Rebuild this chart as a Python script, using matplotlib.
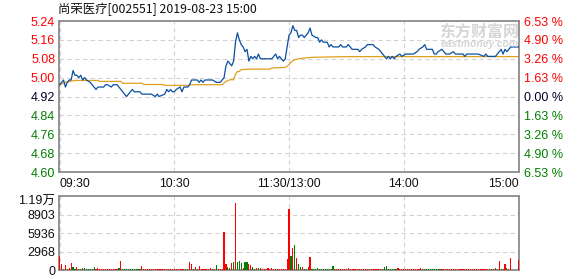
import matplotlib
matplotlib.use("Agg")
import matplotlib.pyplot as plt

plt.rcParams['font.family'] = ['Liberation Sans', 'Noto Sans CJK SC', 'DejaVu Sans']

title = "尚荣医疗[002551] 2019-08-23 15:00"

# minute index (0 = 09:30, 120 = 11:30/13:00, 240 = 15:00) and price
price_min = [0, 1, 2, 3, 4, 5, 6, 7, 8, 9,
             10, 11, 12, 13, 14, 16, 17, 18, 19, 20,
             21, 23, 24, 25, 27, 28, 30, 31, 32, 33,
             34, 35, 36, 37, 38, 39, 42, 43, 48, 50,
             51, 52, 55, 56, 57, 58, 59, 60, 61, 63,
             64, 65, 67, 68, 69, 71, 72, 73, 74, 75,
             76, 80, 82, 84, 85, 86, 87, 88, 89, 90,
             91, 92, 93, 94, 95, 96, 97, 98, 99, 100,
             101, 102, 103, 104, 105, 108, 111, 113, 114, 115,
             116, 117, 118, 119, 120, 121, 122, 123, 124, 125,
             126, 127, 128, 129, 130, 131, 132, 134, 135, 136,
             137, 138, 140, 141, 142, 143, 146, 147, 148, 150,
             151, 152, 153, 156, 157, 158, 160, 161, 164, 165,
             167, 168, 169, 170, 171, 172, 173, 174, 175, 176,
             178, 179, 181, 185, 187, 188, 190, 191, 192, 195,
             196, 197, 198, 200, 201, 202, 204, 206, 207, 209,
             211, 212, 213, 219, 222, 223, 224, 225, 228, 229,
             230, 231, 232, 233, 234, 235, 236, 240]
price_val = [4.97, 4.98, 4.99, 4.96, 4.98, 4.99, 4.99, 5.03, 5.01, 5.01,
             5.00, 5.01, 4.99, 5.00, 4.99, 4.98, 4.97, 4.96, 4.95, 4.96,
             4.96, 4.96, 4.97, 4.97, 4.96, 4.97, 4.97, 4.96, 4.95, 4.94,
             4.93, 4.92, 4.93, 4.94, 4.95, 4.94, 4.94, 4.93, 4.93, 4.92,
             4.93, 4.92, 4.93, 4.95, 4.94, 4.95, 4.94, 4.94, 4.95, 4.96,
             4.94, 4.96, 4.96, 4.97, 4.99, 4.99, 4.99, 4.98, 4.99, 4.98,
             4.99, 4.99, 4.98, 4.98, 4.99, 5.00, 5.05, 5.07, 5.06, 5.05,
             5.07, 5.15, 5.19, 5.16, 5.14, 5.13, 5.11, 5.12, 5.07, 5.09,
             5.08, 5.09, 5.08, 5.10, 5.08, 5.08, 5.08, 5.10, 5.08, 5.09,
             5.08, 5.07, 5.08, 5.13, 5.18, 5.19, 5.22, 5.20, 5.20, 5.17,
             5.18, 5.18, 5.17, 5.18, 5.19, 5.21, 5.18, 5.17, 5.17, 5.15,
             5.16, 5.15, 5.15, 5.13, 5.14, 5.13, 5.13, 5.14, 5.13, 5.13,
             5.14, 5.13, 5.12, 5.12, 5.11, 5.12, 5.13, 5.14, 5.14, 5.13,
             5.12, 5.11, 5.10, 5.09, 5.08, 5.09, 5.08, 5.09, 5.08, 5.09,
             5.10, 5.09, 5.10, 5.10, 5.11, 5.12, 5.13, 5.14, 5.12, 5.12,
             5.10, 5.10, 5.11, 5.12, 5.11, 5.10, 5.10, 5.11, 5.10, 5.10,
             5.10, 5.09, 5.10, 5.10, 5.09, 5.10, 5.09, 5.09, 5.09, 5.10,
             5.11, 5.12, 5.10, 5.12, 5.11, 5.12, 5.13, 5.13]

# average price line
avg_min = [0, 3, 6, 8, 20, 21, 32, 33, 43, 44, 54, 55, 67, 68, 85, 86, 87, 89, 91,
           92, 93, 94, 95, 99, 110, 111, 118, 119, 120, 121, 122, 123, 125, 128,
           132, 150, 240]
avg_val = [4.970, 4.980, 4.985, 4.988, 4.988, 4.984, 4.984, 4.976, 4.976, 4.971,
           4.971, 4.967, 4.967, 4.970, 4.970, 4.977, 4.984, 4.991, 4.991,
           5.015, 5.026, 5.026, 5.034, 5.036, 5.036, 5.041, 5.043, 5.048, 5.055,
           5.065, 5.072, 5.076, 5.080, 5.083, 5.086, 5.089, 5.089]

# volume per minute (241 bars), r = up, g = down
volume = [2210, 950, 200, 790, 200, 320, 1110, 470, 160, 420,
          200, 200, 320, 320, 100, 100, 100, 100, 470, 160,
          320, 120, 120, 120, 120, 120, 120, 120, 120, 120,
          120, 250, 1420, 120, 120, 120, 120, 120, 120, 120,
          120, 120, 120, 630, 120, 120, 120, 120, 120, 120,
          120, 120, 120, 120, 120, 120, 120, 120, 120, 120,
          120, 120, 120, 120, 120, 160, 120, 120, 1320, 950,
          160, 470, 200, 630, 120, 120, 120, 120, 120, 320,
          200, 120, 790, 160, 160, 160, 6160, 950, 420, 320,
          1100, 1260, 10700, 1260, 1420, 1160, 320, 1260, 1260, 950,
          790, 470, 160, 320, 320, 320, 160, 160, 160, 320,
          160, 320, 160, 160, 160, 160, 160, 160, 160, 1740,
          9800, 2210, 3480, 3950, 1900, 950, 470, 470, 160, 160,
          470, 2050, 160, 160, 160, 320, 160, 160, 160, 160,
          160, 160, 160, 630, 160, 160, 160, 160, 160, 160,
          160, 320, 160, 160, 160, 160, 160, 160, 160, 160,
          160, 160, 160, 160, 160, 160, 160, 160, 160, 160,
          470, 630, 160, 160, 160, 160, 160, 320, 160, 160,
          160, 160, 160, 160, 160, 160, 160, 160, 160, 320,
          160, 160, 160, 160, 160, 160, 160, 160, 160, 160,
          160, 160, 160, 160, 160, 160, 160, 160, 160, 160,
          160, 160, 160, 160, 160, 160, 160, 160, 160, 160,
          160, 160, 160, 160, 160, 160, 160, 160, 320, 160,
          1420, 160, 160, 950, 320, 160, 1900, 80, 80, 80,
          1580]
vol_dir = ("rrgrgrrggr" "grgggggggr" "rrrrrrrrrr" "rgrggggggg"
           "gggrrrrrrr" "rrrrrrrrrr" "rrrrrrggrr" "grgrrrrrrr"
           "grgrrrrrgg" "rgrgggrggr" "rggrgrrrrr" "rrrrrrrrrr"
           "rgrgrggrgg" "rrgggggggg" "ggggrrrrrr" "rrrrrrrrrr"
           "rrrrrrrrrg" "gggggggrrr" "rrrrrrrrrr" "gggggggggg"
           "rrrrrrrrrr" "rrrrrrrrrr" "rrrrrrggrg" "rgrrgrrrrr" "r")

price_ticks = [4.60, 4.68, 4.76, 4.84, 4.92, 5.00, 5.08, 5.16, 5.24]
pct_labels = ["6.53 %", "4.90 %", "3.26 %", "1.63 %", "0.00 %",
              "1.63 %", "3.26 %", "4.90 %", "6.53 %"]
prev_close = 4.92
time_ticks = [0, 60, 120, 180, 240]
time_labels = ["09:30", "10:30", "11:30/13:00", "14:00", "15:00"]
vol_ticks = [0, 2968, 5936, 8903, 11871]
vol_labels = ["0", "2968", "5936", "8903", "1.19万"]

RED = "#ff0000"
GREEN = "#008000"
DARK = "#00002a"
GRID = "#d2d2d2"
EDGE = "#8c8c8c"


def label_color(v):
    if v > prev_close + 1e-9:
        return RED
    if v < prev_close - 1e-9:
        return GREEN
    return DARK


fig = plt.figure(figsize=(5.78, 2.76), dpi=100)
ax = fig.add_axes([0.1016, 0.3768, 0.7969, 0.5471])
axv = fig.add_axes([0.1016, 0.0217, 0.7969, 0.2681])

fig.text(58 / 578, 1 - 9 / 276, title, fontsize=8.9, ha="left", va="center",
         family=["Noto Sans CJK SC", "DejaVu Sans"], color="#111111")

# watermark
fig.text(519 / 578, 1 - 32 / 276, "东方财富网", fontsize=11.5, ha="right", va="center",
         color="#d6d6d6", fontweight="bold", family=["Noto Sans CJK SC"])
fig.text(519 / 578, 1 - 44 / 276, "eastmoney.com", fontsize=7.5, ha="right",
         va="center", color="#d6d6d6", fontweight="bold", style="italic")

xmin, xmax = -0.5, 240.5

# price panel
ax.plot(price_min, price_val, color="#0a4fa0", lw=0.9, zorder=3)
ax.plot(avg_min, avg_val, color="#e0a020", lw=0.9, zorder=2)
ax.set_xlim(xmin, xmax)
ax.set_ylim(price_ticks[0], price_ticks[-1])
ax.set_yticks(price_ticks)
ax.set_yticklabels([f"{v:.2f}" for v in price_ticks], fontsize=9)
for lab, v in zip(ax.get_yticklabels(), price_ticks):
    lab.set_color(label_color(v))
ax.set_xticks(time_ticks)
ax.set_xticklabels(time_labels, fontsize=8.8, color="#111111")
xl = ax.get_xticklabels()
xl[0].set_ha("left")
xl[-1].set_ha("right")
ax.tick_params(axis="y", length=0, pad=2.5)
ax.tick_params(axis="x", length=0, pad=4)
ax.grid(True, color=GRID, ls=(0, (4, 3)), lw=0.8)
for s in ax.spines.values():
    s.set_color(EDGE)
    s.set_linewidth(1.3)

ax2 = ax.twinx()
ax2.set_ylim(price_ticks[0], price_ticks[-1])
ax2.set_yticks(price_ticks)
ax2.set_yticklabels(pct_labels, fontsize=9)
for lab, v in zip(ax2.get_yticklabels(), price_ticks):
    lab.set_color(label_color(v))
ax2.tick_params(axis="y", length=0, pad=3.5)
for s in ax2.spines.values():
    s.set_visible(False)

# volume panel
colors = [RED if c == "r" else GREEN for c in vol_dir]
axv.bar(range(len(volume)), volume, width=0.6, color=colors, zorder=3)
axv.set_xlim(xmin, xmax)
axv.set_ylim(vol_ticks[0], vol_ticks[-1])
axv.set_yticks(vol_ticks)
axv.set_yticklabels(vol_labels, fontsize=9, color="#111111")
axv.get_yticklabels()[-1].set_va("top")
axv.set_xticks(time_ticks)
axv.set_xticklabels([])
axv.tick_params(length=0, pad=2.5)
axv.grid(True, color=GRID, ls=(0, (4, 3)), lw=0.8)
for s in axv.spines.values():
    s.set_color(EDGE)
    s.set_linewidth(1.3)

fig.savefig("out.png", dpi=100)
